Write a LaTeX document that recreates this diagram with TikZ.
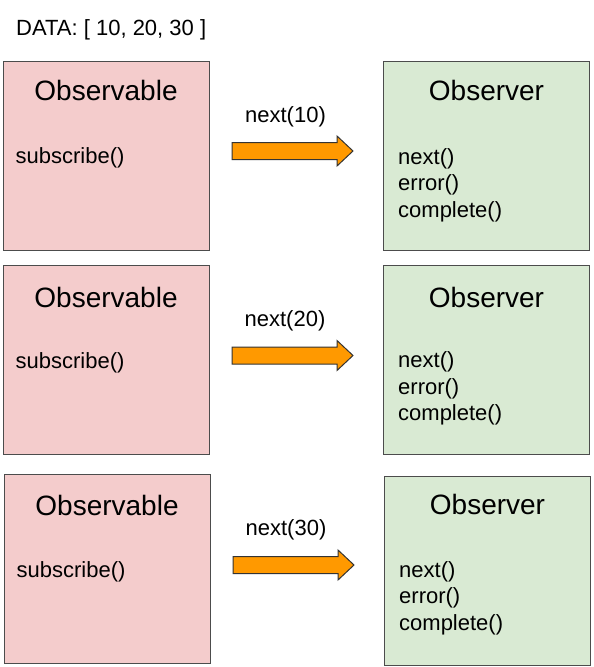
\documentclass[tikz,border=0pt]{standalone}
\usepackage{fontspec}
\setmainfont{Liberation Sans}

\definecolor{obsred}{HTML}{F4CCCC}
\definecolor{obsgreen}{HTML}{D9EAD3}
\definecolor{arroworange}{HTML}{FF9900}

\begin{document}
\begin{tikzpicture}[x=1pt,y=-1pt]
  \tikzset{class box/.style={draw=black!70,line width=1pt,rectangle,minimum width=206pt,minimum height=189pt,fill=#1}}
  \tikzset{class title/.style={inner sep=0pt,yshift=-1pt,font=\fontsize{28}{34}\selectfont}}
  \tikzset{method text/.style={inner sep=0pt,anchor=west,align=left,yshift=-2.5pt,font=\fontsize{22}{26.5}\selectfont}}
  \tikzset{push arrow/.style={draw=black!80,fill=arroworange,line width=1pt,line join=miter}}

  \useasboundingbox (0,0) rectangle (594,667);

  \node[method text] (data) at (16,27) {DATA: [ 10, 20, 30 ]};

  % row 1
  \node [class box = obsred] (src1) at (106,155.5) {};
  \node [class box = obsgreen] (obs1) at (486.5,155.5) {};
  \node[class title] (srct1) at ([yshift=-29pt]src1.north) {Observable};
  \node[class title] (obst1) at ([yshift=-29pt]obs1.north) {Observer};
  \node[method text] (sub1) at ([xshift=13pt]src1.west) {subscribe()};
  \node[method text] (meth1) at ([xshift=15pt,yshift=-27pt]obs1.west) {next()\\error()\\complete()};
  \coordinate (arr1) at (292.5,151);
  \draw[push arrow] (arr1) ++(-60.5,-8.5) -- ++(105,0) -- ++(0,-6.5) -- ++(16,15) -- ++(-16,15) -- ++(0,-6.5) -- ++(-105,0) -- cycle;
  \node[method text,anchor=center] (val1) at (285.5,114) {next(10)};

  % row 2
  \node [class box = obsred] (src2) at (106,360) {};
  \node [class box = obsgreen] (obs2) at (486.5,360) {};
  \node[class title] (srct2) at ([yshift=-31pt]src2.north) {Observable};
  \node[class title] (obst2) at ([yshift=-31pt]obs2.north) {Observer};
  \node[method text] (sub2) at ([xshift=13pt]src2.west) {subscribe()};
  \node[method text] (meth2) at ([xshift=15pt,yshift=-26pt]obs2.west) {next()\\error()\\complete()};
  \coordinate (arr2) at (292.5,355.5);
  \draw[push arrow] (arr2) ++(-60.5,-8.5) -- ++(105,0) -- ++(0,-6.5) -- ++(16,15) -- ++(-16,15) -- ++(0,-6.5) -- ++(-105,0) -- cycle;
  \node[method text,anchor=center] (val2) at (285,318) {next(20)};

  % row 3
  \node [class box = obsred] (src3) at (107,569) {};
  \node [class box = obsgreen] (obs3) at (487.5,570.5) {};
  \node[class title] (srct3) at ([yshift=-30pt]src3.north) {Observable};
  \node[class title] (obst3) at ([yshift=-28pt]obs3.north) {Observer};
  \node[method text] (sub3) at ([xshift=13pt]src3.west) {subscribe()};
  \node[method text] (meth3) at ([xshift=15pt,yshift=-25pt]obs3.west) {next()\\error()\\complete()};
  \coordinate (arr3) at (293.5,565);
  \draw[push arrow] (arr3) ++(-60.5,-8.5) -- ++(105,0) -- ++(0,-6.5) -- ++(16,15) -- ++(-16,15) -- ++(0,-6.5) -- ++(-105,0) -- cycle;
  \node[method text,anchor=center] (val3) at (286,527) {next(30)};
\end{tikzpicture}
\end{document}
